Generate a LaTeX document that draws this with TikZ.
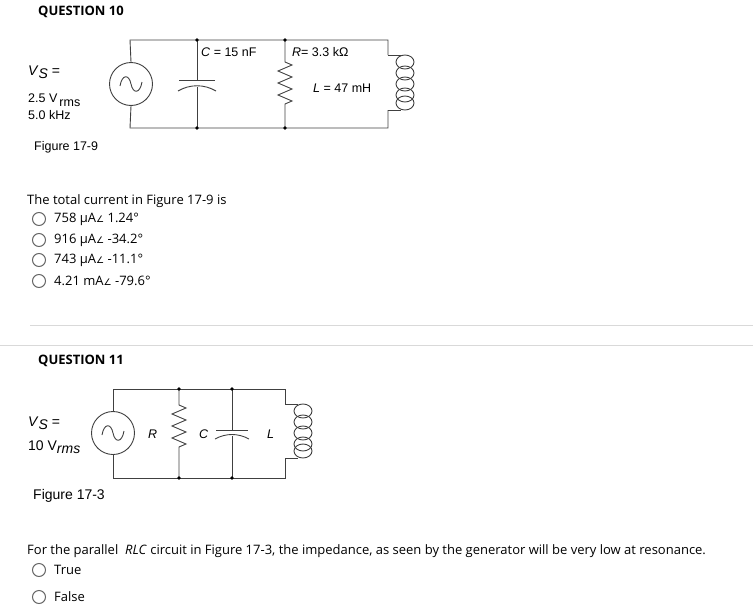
\documentclass[tikz,border=0pt]{standalone}
\usepackage{fontspec}
\setmainfont{Open Sans}
\newfontfamily\arial{Liberation Sans}
\newfontfamily\djv{DejaVu Sans}
\begin{document}
\begin{tikzpicture}[x=1pt,y=-1pt,
  wire/.style={draw=black!75,line width=0.9pt},
  dotc/.style={circle,fill=black,inner sep=1.3pt},
  ui/.style={anchor=west,inner sep=0pt,font=\fontsize{13}{15}\selectfont},
  ct/.style={anchor=west,inner sep=0pt,font=\arial\fontsize{12.5}{14}\selectfont},
  big/.style={anchor=west,inner sep=0pt,font=\arial\fontsize{14}{16}\selectfont},
  radio/.style={circle,draw=black!60,line width=1pt,minimum size=13pt,inner sep=0pt},
  src/.style={circle,draw=black!75,line width=0.9pt,minimum size=43pt,inner sep=0pt},
  coil/.style={wire}]
\useasboundingbox (0,0) rectangle (753,616);
% ---------- Question 10 ----------
\node[ui,font=\bfseries\fontsize{13}{15}\selectfont] (q10) at (38,12) {QUESTION 10};
\node[src] (s1) at (131,84) {};
\draw[wire] (s1.north) -- (130,40) coordinate (a1) -- (388,40) coordinate (b1) -- (388,55) coordinate (l1t);
\draw[wire] (s1.south) -- (130,128) coordinate (a2) -- (388,128) coordinate (b2) -- (388,110) coordinate (l1b);
\draw[wire] (120,86) .. controls (122,74) and (129,74) .. (131,84) .. controls (133,94) and (140,94) .. (142,82);
% capacitor
\coordinate (c1t) at (197,40); \coordinate (c1b) at (197,128);
\draw[wire] (c1t) -- (197,80.5); \draw[wire] (197,87) -- (c1b);
\draw[wire] (179,80.5) -- (215,80.5);
\draw[wire] (178,91) .. controls (190,84) and (204,84) .. (216,91);
\node[dotc] at (c1t) {}; \node[dotc] at (c1b) {};
% resistor
\coordinate (r1t) at (285,40); \coordinate (r1b) at (285,128);
\draw[wire] (r1t) -- (285,62) -- (292,65) -- (278,71) -- (292,77) -- (278,83) -- (292,89) -- (278,95) -- (292,101) -- (285,104) -- (r1b);
\node[dotc] at (r1t) {}; \node[dotc] at (r1b) {};
% inductor
\draw[wire] (l1t) -- (401,55) (388,110) -- (401,110);
\foreach \c in {62,73,84,95,103} \draw[coil] (405,\c) ellipse (9 and 7);
\node[ct] (cl) at (201,52) {\textit{C} = 15 nF};
\node[ct] (rl) at (292,52) {\textit{R}= 3.3 kΩ};
\node[ct] (ll) at (313,88) {\textit{L} = 47 mH};
\node[big] (vs1) at (28,72) {\textit{V}\raisebox{-3pt}{\textit{S}} =};
\node[ct] (v1a) at (28,100) {2.5 V\,\raisebox{-4pt}{rms}};
\node[ct] (v1b) at (28,115) {5.0 kHz};
\node[ct] (f1) at (34,147) {Figure 17-9};
% answers
\node[ui] (t1) at (27,201) {The total current in Figure 17-9 is};
\foreach \y/\t [count=\i] in {219/{758 µA{\djv\fontsize{9}{10}\selectfont∠} 1.24°},240/{916 µA{\djv\fontsize{9}{10}\selectfont∠} -34.2°},260/{743 µA{\djv\fontsize{9}{10}\selectfont∠} -11.1°},281/{4.21 mA{\djv\fontsize{9}{10}\selectfont∠} -79.6°}}{
  \node[radio] (r\i) at (39,\y) {};
  \node[ui] (o\i) at (54,\y) {\t};
}
\draw[black!15] (30,325) coordinate (sa) -- (753,325) coordinate (sb);
\draw[black!15] (0,345) coordinate (sc) -- (753,345) coordinate (sd);
% ---------- Question 11 ----------
\node[ui,font=\bfseries\fontsize{13}{15}\selectfont] (q11) at (38,361) {QUESTION 11};
\node[src] (s2) at (113,433) {};
\draw[wire] (s2.north) -- (113,389) -- (285,389) -- (285,404) coordinate (l2t);
\draw[wire] (s2.south) -- (113,478) -- (285,478) -- (285,458) coordinate (l2b);
\draw[wire] (102,435) .. controls (104,423) and (111,423) .. (113,433) .. controls (115,443) and (122,443) .. (124,431);
\coordinate (r2t) at (179,389); \coordinate (r2b) at (179,478);
\draw[wire] (r2t) -- (179,405) -- (186,408) -- (172,414) -- (186,420) -- (172,426) -- (186,432) -- (172,438) -- (186,444) -- (179,447) -- (r2b);
\node[dotc] at (r2t) {}; \node[dotc] at (r2b) {};
\coordinate (c2t) at (232,389); \coordinate (c2b) at (232,478);
\draw[wire] (c2t) -- (232,430); \draw[wire] (232,436) -- (c2b);
\draw[wire] (216,430) -- (248,430);
\draw[wire] (215,439) .. controls (226,433) and (238,433) .. (249,439);
\node[dotc] at (c2t) {}; \node[dotc] at (c2b) {};
\draw[wire] (l2t) -- (298,404) (l2b) -- (298,458);
\foreach \c in {411,422,433,444,451} \draw[coil] (303,\c) ellipse (9 and 7);
\node[ct] (rl2) at (148,434) {\textit{R}};
\node[ct] (cl2) at (199,434) {\textit{C}};
\node[ct] (ll2) at (267,434) {\textit{L}};
\node[big] (vs2) at (28,423) {\textit{V}\raisebox{-3pt}{\textit{S}} =};
\node[big] (v2) at (28,447) {10 V\raisebox{-3pt}{\textit{rms}}};
\node[big] (f2) at (33,496) {Figure 17-3};
\node[ui] (t2) at (27,551) {For the parallel \ \textit{RLC} circuit in Figure 17-3, the impedance, as seen by the generator will be very low at resonance.};
\node[radio] (rt) at (39,570) {}; \node[ui] (tt) at (54,570) {True};
\node[radio] (rf) at (39,597) {}; \node[ui] (tf) at (54,597) {False};
\end{tikzpicture}
\end{document}
